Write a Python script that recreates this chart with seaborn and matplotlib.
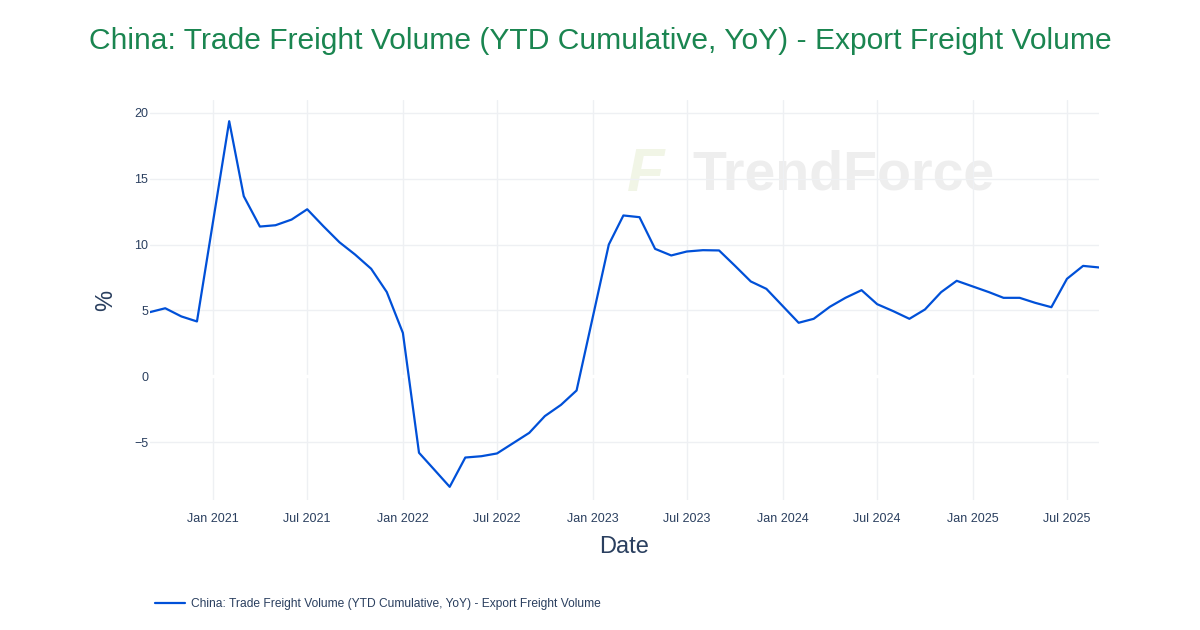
import matplotlib
matplotlib.use("Agg")
import matplotlib.pyplot as plt
import matplotlib.dates as mdates
import seaborn as sns
import pandas as pd

# ----- DATA -----
months = [
    "2020-09", "2020-10", "2020-11", "2020-12",
    "2021-02", "2021-03", "2021-04", "2021-05", "2021-06", "2021-07",
    "2021-08", "2021-09", "2021-10", "2021-11", "2021-12",
    "2022-01", "2022-02", "2022-03", "2022-04", "2022-05", "2022-06",
    "2022-07", "2022-08", "2022-09", "2022-10", "2022-11", "2022-12",
    "2023-02", "2023-03", "2023-04", "2023-05", "2023-06", "2023-07",
    "2023-08", "2023-09", "2023-10", "2023-11", "2023-12",
    "2024-02", "2024-03", "2024-04", "2024-05", "2024-06", "2024-07",
    "2024-08", "2024-09", "2024-10", "2024-11", "2024-12",
    "2025-02", "2025-03", "2025-04", "2025-05", "2025-06", "2025-07",
    "2025-08", "2025-09",
]
export_yoy = [
    4.87, 5.17, 4.55, 4.17,
    19.34, 13.66, 11.36, 11.46, 11.89, 12.67,
    11.39, 10.17, 9.24, 8.16, 6.4,
    3.3, -5.78, -7.0, -8.36, -6.14, -6.04,
    -5.83, -5.05, -4.27, -3.0, -2.15, -1.06,
    10.0, 12.2, 12.07, 9.67, 9.17, 9.47,
    9.57, 9.55, 8.41, 7.2, 6.64,
    4.07, 4.37, 5.28, 5.96, 6.54, 5.48,
    4.95, 4.37, 5.08, 6.39, 7.25,
    6.39, 5.96, 5.96, 5.58, 5.25, 7.4,
    8.38, 8.26,
]
series_name = "China: Trade Freight Volume (YTD Cumulative, YoY) - Export Freight Volume"

df = pd.DataFrame({"Date": pd.to_datetime(months), "value": export_yoy})

# ----- STYLE -----
sns.set_theme(style="white")
plt.rcParams["font.family"] = ["Liberation Sans", "DejaVu Sans"]
text_col = "#2a3f5f"
grid_col = "#eef0f3"

fig = plt.figure(figsize=(12, 6.3), dpi=100)
ax = fig.add_axes([0.1247, 0.2063, 0.7913, 0.635])

# watermark (TrendForce logo, faint)
ax.text(0.572, 0.81, "TrendForce", transform=ax.transAxes, fontsize=40,
        fontweight="bold", color="#eeeeee", ha="left", va="center", zorder=0)
ax.text(0.503, 0.81, "F", transform=ax.transAxes, fontsize=44,
        fontweight="bold", color="#f1f5e6", ha="left", va="center", zorder=0,
        style="italic")

sns.lineplot(data=df, x="Date", y="value", ax=ax, color="#0050d8",
             linewidth=1.6, label=series_name, zorder=3)

ax.axhline(0, color="white", linewidth=2.5, zorder=1)

ax.set_xlim(pd.Timestamp("2020-09-01"), pd.Timestamp("2025-09-01"))
ax.set_ylim(-9.36, 20.95)
ax.set_yticks([-5, 0, 5, 10, 15, 20])
ax.set_yticklabels(["\u22125", "0", "5", "10", "15", "20"])
ax.xaxis.set_major_locator(mdates.MonthLocator(bymonth=[1, 7]))
ax.xaxis.set_major_formatter(mdates.DateFormatter("%b %Y"))

ax.grid(True, color=grid_col, linewidth=1, zorder=0)
ax.set_axisbelow(True)
for s in ax.spines.values():
    s.set_visible(False)
ax.tick_params(axis="both", length=0, labelsize=9, colors=text_col)
ax.tick_params(axis="x", pad=9)
ax.tick_params(axis="y", pad=1)

ax.set_xlabel("Date", fontsize=17, color=text_col, labelpad=8)
ax.set_ylabel("%", fontsize=17, color=text_col, labelpad=12)

fig.suptitle(series_name, x=0.5, y=0.957, fontsize=21.6, color="#1a8550")

leg = ax.legend(loc="upper left", bbox_to_anchor=(-0.006, -0.2175), frameon=False,
                fontsize=8.65, handlelength=2.5, handletextpad=0.5)
for t in leg.get_texts():
    t.set_color(text_col)

fig.savefig("out.png", dpi=100)
